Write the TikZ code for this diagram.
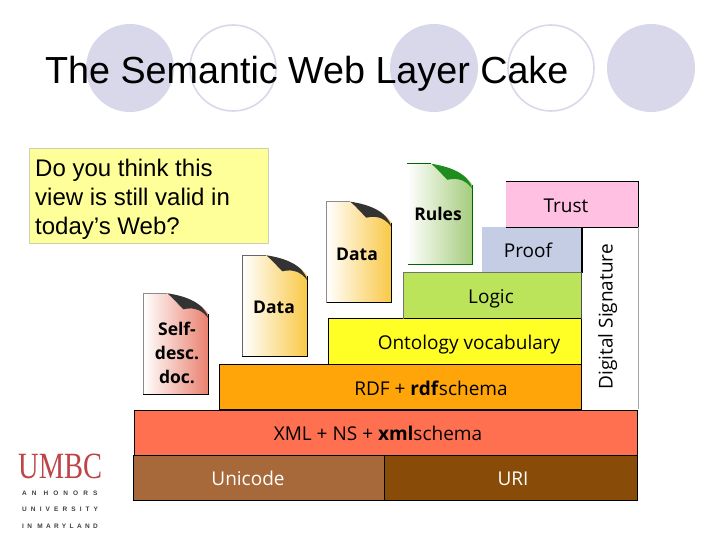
\documentclass[tikz,border=0pt]{standalone}
\usepackage{fontspec}
\setmainfont{Liberation Sans}
\newfontfamily\cakefont{Open Sans}
\newfontfamily\logoserif[FakeStretch=0.77]{Liberation Serif}
\newfontfamily\logoletters{Liberation Sans}
\usetikzlibrary{positioning}

\definecolor{ringlilac}{HTML}{D8D8EA}
\definecolor{noteyellow}{HTML}{FFFF99}
\definecolor{noteedge}{HTML}{CFCFB4}
\definecolor{trustpink}{HTML}{FFC0E2}
\definecolor{proofblue}{HTML}{C4CDE4}
\definecolor{logicgreen}{HTML}{BCE45A}
\definecolor{ontoyellow}{HTML}{FFFF26}
\definecolor{rdforange}{HTML}{FFA509}
\definecolor{xmlred}{HTML}{FF7050}
\definecolor{unibrown}{HTML}{A8693A}
\definecolor{uribrown}{HTML}{884C08}
\definecolor{umbcred}{HTML}{BE4448}
\definecolor{selfsalmon}{HTML}{E9806E}
\definecolor{datagold}{HTML}{F9C846}
\definecolor{rulesgreen}{HTML}{A4CC7C}
\definecolor{foldgreen}{HTML}{1E8C1E}

\tikzset{
  layerbox/.style = {draw = black, line width = 0.8pt, inner sep = 0pt},
  layerfill/.style = {inner sep = 0pt},
  layeredge/.style = {line width = 0.8pt},
  layertext/.style = {font = \cakefont\fontsize{19}{20}\selectfont, inner sep = 0pt, anchor = base, text = black},
  doctext/.style = {font = \cakefont\bfseries\fontsize{17.5}{24}\selectfont, inner sep = 0pt, align = center},
  logotext/.style = {font = \logoletters\bfseries\fontsize{6.5}{7}\selectfont\addfontfeature{LetterSpace = #1}, inner sep = 0pt, anchor = base west, text = black!75}
}

% sheet of paper: x, y, edge colour, left edge colour, side colour, fold colour
\newcommand{\docsheet}[6]{
  \begin{scope}[shift = {(#1, #2)}]
    \shade[left color = white, middle color = #5!14, right color = #5] (0, 0) -- (24, 0)
      .. controls (44, 4) and (60, 11) .. (65, 21) -- (65, 101) -- (0, 101) -- cycle;
    \draw[line width = 0.7pt, #3] (65, 21) -- (65, 101) -- (0, 101);
    \draw[line width = 0.7pt, #4] (0, 101) -- (0, 0) -- (24, 0);
    \fill[#6] (24, 0) .. controls (44, 3) and (61, 10) .. (65, 25)
      .. controls (60, 18) and (52, 13) .. (40, 16) .. controls (35, 11) and (30, 5) .. (24, 0) -- cycle;
  \end{scope}
}

\begin{document}
\begin{tikzpicture}[x = 1pt, y = -1pt]
\useasboundingbox (0, 0) rectangle (728, 546);

% title circles
\fill[ringlilac] (130, 68) circle [radius = 44];
\draw[ringlilac, line width = 1.6pt] (233, 68) circle [radius = 43];
\fill[ringlilac] (434, 68) circle [radius = 44];
\draw[ringlilac, line width = 1.6pt] (551, 68) circle [radius = 43];
\fill[ringlilac] (651, 68) circle [radius = 44];

\node[anchor = base west, inner sep = 0pt, font = \fontsize{37.7}{40}\selectfont] (title) at (45, 83){The Semantic Web Layer Cake};

% question box
\node[draw = noteedge, fill = noteyellow, line width = 1pt, minimum width = 239, minimum height = 95, inner sep = 0pt] (notebox) at (148.5, 196){};
\node[anchor = north west, inner sep = 0pt, align = left, font = \fontsize{24}{29}\selectfont] (notetext) at (35, 158.5){Do you think this\\view is still valid in\\today's Web?};

% layers
\node[layerfill, fill = trustpink, minimum width = 132, minimum height = 46] (trust) at (571.8, 204.3){};
\node[layerfill, fill = proofblue, minimum width = 99.4, minimum height = 45] (proof) at (532, 249.8){};
\node[layerfill, fill = white, minimum width = 56, minimum height = 181.7] (signature) at (609.7, 318.2){};
\node[layerfill, fill = logicgreen, minimum width = 177, minimum height = 46] (logic) at (492.5, 295.3){};
\node[layerbox, fill = ontoyellow, minimum width = 253.4, minimum height = 46] (onto) at (455, 341.3){};
\node[layerbox, fill = rdforange, minimum width = 362.4, minimum height = 45] (rdf) at (400.5, 386.8){};
\node[layerbox, fill = xmlred, minimum width = 503.4, minimum height = 45.5] (xml) at (386, 432.8){};
\node[layerbox, fill = unibrown, minimum width = 251, minimum height = 45] (unicode) at (258.8, 477.8){};
\node[layerbox, fill = uribrown, minimum width = 253.4, minimum height = 45] (uri) at (511, 477.8){};

\draw[layeredge] (trust.north west) -- (trust.north east) -- (trust.south east) -- (trust.south west);
\draw[layeredge] (proof.north east) -- (proof.south east);
\draw[layeredge, black!55] (proof.south west) -- (proof.south east);
\draw[layeredge, black!35] (signature.north east) -- (signature.south east);
\draw[layeredge] (signature.north west) -- (signature.south west);
\draw[layeredge, black!55] (logic.south west) -- (logic.north west) -- (logic.north east);
\draw[layeredge, black!70] (logic.north east) -- (logic.south east);

\node[layertext] (trustlabel) at (566, 212){Trust};
\node[layertext] (prooflabel) at (528, 257.5){Proof};
\node[layertext] (logiclabel) at (491, 303){Logic};
\node[layertext] (ontolabel) at (469, 349.5){Ontology vocabulary};
\node[layertext] (rdflabel) at (431, 395){RDF + \textbf{rdf}schema};
\node[layertext] (xmllabel) at (378, 440.5){XML + NS + \textbf{xml}schema};
\node[layertext, text = white] (unicodelabel) at (248, 485.5){Unicode};
\node[layertext, text = white] (urilabel) at (513, 485.5){URI};
\node[layertext, rotate = 90] (signaturelabel) at (612.5, 316.7){Digital Signature};

% documents
\docsheet{143.3}{293.3}{black}{black!45}{selfsalmon}{black!80}
\docsheet{242.3}{255.3}{black}{black!60}{datagold}{black!80}
\docsheet{326.3}{201.7}{black}{black!45}{datagold}{black!80}
\docsheet{407.3}{163.8}{green!40!black}{white}{rulesgreen}{foldgreen}
\draw[line width = 0.7pt, green!40!black] (407.3, 163.8) -- (431.3, 163.8);

\node[doctext] (selfdoc) at (177, 353){Self-\\desc.\\doc.};
\node[doctext] (dataone) at (274, 307){Data};
\node[doctext] (datatwo) at (357, 254){Data};
\node[doctext] (rules) at (438, 214){Rules};

% logo
\node[anchor = base west, inner sep = 0pt, text = umbcred, font = \logoserif\fontsize{37}{38}\selectfont] (umbc) at (18, 478){UMBC};
\node[logotext = 78] (honors) at (22, 495){AN HONORS};
\node[logotext = 63] (university) at (22, 511.5){UNIVERSITY};
\node[logotext = 52] (maryland) at (22, 528){IN MARYLAND};
\end{tikzpicture}
\end{document}
